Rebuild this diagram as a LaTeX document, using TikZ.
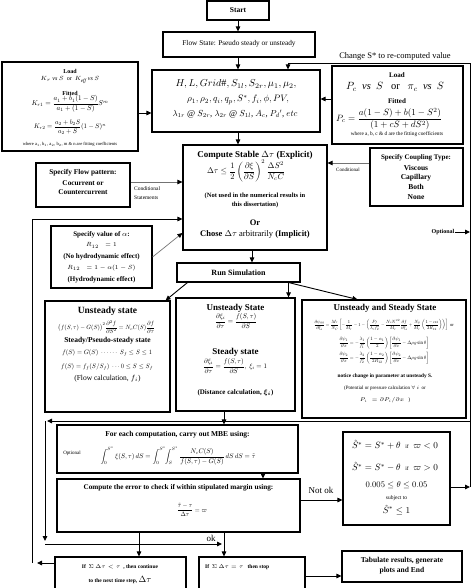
\RequirePackage{fix-cm}
\documentclass[tikz,border=0pt]{standalone}
\usepackage{amsmath}
\usepackage{graphicx}
\usepackage{fontspec}
\setmainfont{Liberation Serif}
\usetikzlibrary{arrows.meta,calc}
\newcommand\fz[1]{\fontsize{#1}{#1}\selectfont}
\newcommand\rw[2]{\resizebox{#1pt}{!}{#2}}
\newcounter{tn}
\newcommand\tx[4][]{\stepcounter{tn}\node[txt,#1] (t\number\value{tn}) at (#2,#3) {#4};}
\newcommand\bx[5]{\node[box,minimum width={(#4-#2)*1pt},minimum height={(#5-#3)*1pt}] (#1) at ({(#2+#4)/2},{(#3+#5)/2}) {};}
\tikzset{
  box/.style={draw,line width=1.1pt,inner sep=0pt,fill=white},
  txt/.style={inner sep=0pt,align=center},
  line/.style={line width=0.9pt},
  arr/.style={line width=0.9pt,-{Triangle[length=5pt,width=4.5pt]}},
  garr/.style={line width=0.7pt,draw=black!55,-{Triangle[length=5pt,width=4.5pt,color=black]}}
}
\begin{document}
\begin{tikzpicture}[x=1pt,y=-1pt]
\useasboundingbox (0,0) rectangle (474,588);
% boxes
\bx{start}{207}{1}{269}{20}
\bx{flow}{163}{32}{315}{57}
\bx{params}{152}{70}{320}{132}
\bx{lload}{2}{62}{138}{151}
\bx{rload}{332}{66}{463}{144}
\bx{comp}{183}{145}{327}{250}
\bx{coup}{370}{148}{463}{206}
\bx{fp}{36}{163}{130}{207}
\bx{alpha}{51}{226}{152}{288}
\bx{run}{177}{263}{300}{282}
\bx{lus}{45}{301}{170}{412}
\bx{mid}{176}{298}{295}{411}
\bx{rbox}{302}{300}{466}{418}
\bx{mbe}{57}{425}{298}{473}
\bx{err}{57}{479}{300}{532}
\bx{shat}{343}{432}{450}{525}
\bx{ifl}{55}{557}{186}{595}
\bx{ifeq}{199}{557}{305}{595}
\bx{tab}{342}{551}{462}{582}
% texts
\tx{238}{10.5}{\fz{7.5}\bfseries Start}
\tx{239}{44}{\fz{7.3}Flow State: Pseudo steady or unsteady}
\tx{395}{56}{\fz{8.5}Change S* to re-computed value}
\tx{70}{71}{\fz{6}\bfseries Load}
\tx{70}{80}{\fz{6}$K_r$ \textit{vs} $S$ \ or \ $K_{\mathit{eff}}$ \textit{vs} $S$}
\tx{70}{93}{\fz{6}\bfseries Fitted}
\tx{70}{104}{\rw{77}{$K_{r1}=\dfrac{a_1+b_1(1-S)}{a_1+(1-S)}S^m$}}
\tx{70}{127}{\rw{72}{$K_{r2}=\dfrac{a_2+b_2S}{a_2+S}(1-S)^n$}}
\tx{70}{144}{\fz{4.6}where a$_1$, b$_1$, a$_2$, b$_2$, m \& n are fitting coefficients}
\tx{236}{84}{\rw{121}{$H, L, Grid\#, S_{1l}, S_{2r}, \mu_1, \mu_2,$}}
\tx{238}{100}{\rw{102}{$\rho_1, \rho_2, q_i, q_p, S^*, f_i, \phi, PV,$}}
\tx{235}{114}{\rw{125}{$\lambda_{1r}$ @ $S_{2r}$, $\lambda_{2r}$ @ $S_{1l}$, $A_c$, $P_d{}'$, $etc$}}
\tx{397}{75}{\fz{7}\bfseries Load}
\tx{395}{87}{\rw{98}{$P_c$ \ \textit{vs} \ $S$ \ \ or \ \ $\pi_c$ \ \textit{vs} \ $S$}}
\tx{397}{101}{\fz{7}\bfseries Fitted}
\tx{389}{119}{\rw{106}{$P_c=\dfrac{a(1-S)+b(1-S^2)}{(1+cS+dS^2)}$}}
\tx{397}{134}{\fz{5.3}where a, b, c \& d are the fitting coefficients}
\tx{255}{155}{\fz{9}\bfseries Compute Stable $\Delta\tau$ (Explicit)}
\tx{246}{171}{\rw{78}{$\Delta\tau\le\dfrac12\left(\dfrac{\partial\xi}{\partial S}\right)^2\dfrac{\Delta S^2}{N_cC}$}}
\tx{255}{196}{\fz{6.5}\bfseries (Not used in the numerical results in}
\tx{255}{205}{\fz{6.5}\bfseries this dissertation)}
\tx{255}{223}{\fz{8.5}\bfseries Or}
\tx{255}{234}{\fz{8.5}\textbf{Chose} $\Delta\tau$ arbitrarily \textbf{(Implicit)}}
\tx{416}{158}{\fz{7}\bfseries Specify Coupling Type:}
\tx{416}{167.5}{\fz{7.5}\bfseries Viscous}
\tx{416}{177.5}{\fz{7.5}\bfseries Capillary}
\tx{416}{187}{\fz{7.5}\bfseries Both}
\tx{416}{197}{\fz{7.5}\bfseries None}
\tx{348}{170}{\fz{5}Conditional}
\tx{83}{173}{\fz{7.3}\bfseries Specify Flow pattern:}
\tx{83}{183}{\fz{7.3}\bfseries Cocurrent or}
\tx{83}{192.5}{\fz{7.3}\bfseries Countercurrent}
\tx[anchor=west]{134}{189}{\fz{5.5}Conditional}
\tx[anchor=west]{134}{198}{\fz{5.5}Statements}
\tx{101.5}{235}{\fz{7}\bfseries Specify value of $\alpha$:}
\tx{101.5}{245.5}{\fz{6}$R_{12}\;\;=1$}
\tx{101.5}{257}{\fz{7}\bfseries (No hydrodynamic effect)}
\tx{101.5}{268}{\fz{6}$R_{12}\;\;=1-\alpha(1-S)$}
\tx{101.5}{280}{\fz{7}\bfseries (Hydrodynamic effect)}
\tx{238.5}{272.5}{\fz{8}\bfseries Run Simulation}
\tx{107.5}{311}{\fz{9.5}\bfseries Unsteady state}
\tx{106.5}{327}{\rw{97}{$\bigl(f(S,\tau)-G(S)\bigr)^2\dfrac{\partial^2 f}{\partial S^2}=N_cC(S)\dfrac{\partial f}{\partial\tau}$}}
\tx{107.5}{341}{\fz{7.5}\bfseries Steady/Pseudo-steady state}
\tx{107}{353}{\rw{90}{$f(S)=G(S)\ \cdots\cdots\ S_f\le S\le 1$}}
\tx{107}{367}{\rw{92}{$f(S)=f_f(S/S_f)\ \cdots 0\le S\le S_f$}}
\tx{107.5}{379}{\fz{7.5}(Flow calculation, $f_i$)}
\tx{235.5}{308}{\fz{9}\bfseries Unsteady State}
\tx{236}{321}{\rw{42}{$\dfrac{\partial\xi_i}{\partial\tau}=\dfrac{f(S,\tau)}{\partial S}$}}
\tx{235.5}{352}{\fz{9}\bfseries Steady state}
\tx{235}{366}{\rw{64}{$\dfrac{\partial\xi_i}{\partial\tau}=\dfrac{f(S,\tau)}{\partial S},\ \xi_i=1$}}
\tx{235.5}{393}{\fz{7}\bfseries (Distance calculation, $\boldsymbol{\xi_i}$)}
\tx{385}{308}{\fz{9}\bfseries Unsteady and Steady State}
\tx{384}{325}{\rw{140}{$\dfrac{\partial\psi_{gg}}{\partial\xi_i}=\dfrac{M_r}{N_C}\left[-\dfrac{1}{M_r}-1-\left(\dfrac{P_f}{\lambda_rf_2^0}-\dfrac{N_cN^{\sigma2}}{M_r}\dfrac{\partial f}{\partial\xi_i}+\dfrac{N_g}{M_r}\left(\dfrac{1-\alpha_2}{2R_{12}}\right)\right)\right]$ \ or}}
\tx{384}{343}{\rw{90}{$\dfrac{\partial\psi_1}{\partial x}=-\dfrac{\lambda_1}{f_1^0}\left(\dfrac{1-\alpha_1}{2}\right)\left[\dfrac{\partial\psi_1}{\partial x}-\Delta\rho g\sin\theta\right]$}}
\tx{384}{358}{\rw{90}{$\dfrac{\partial\psi_2}{\partial x}=-\dfrac{\lambda_2}{f_2^0}\left(\dfrac{1-\alpha_2}{2R_{12}}\right)\left[\dfrac{\partial\psi_2}{\partial x}-\Delta\rho g\sin\theta\right]$}}
\tx{385}{376}{\fz{5.3}\bfseries notice change in parameter at unsteady S.}
\tx{385}{388}{\fz{5}(Potential or pressure calculation $\forall\, i$ \ or}
\tx{385}{400}{\fz{5.5}$P_i\;=\partial P_i/\partial x$ \ \ )}
\tx{177.5}{435}{\fz{7.5}\bfseries For each computation, carry out MBE using:}
\tx{72}{453}{\fz{5}Optional}
\tx{178}{456}{\rw{155}{$\displaystyle\int_0^{S^*}\xi(S,\tau)\,dS=\int_0^{S^*}\!\!\int_S^{S^*}\frac{N_cC(S)}{f(S,\tau)-G(S)}\,dS\,dS=\tilde\tau$}}
\tx{178.5}{488}{\fz{7.2}\bfseries Compute the error to check if within stipulated margin using:}
\tx{192}{510}{\rw{30}{$\dfrac{\tilde\tau-\tau}{\Delta\tau}=\varpi$}}
\tx{321}{490}{\fz{9}Not ok}
\tx{395}{445}{\rw{86}{$\hat S^*=S^*+\theta$ \ {\fz{6}if} \ $\varpi<0$}}
\tx{395}{467}{\rw{86}{$\hat S^*=S^*-\theta$ \ {\fz{6}if} \ $\varpi>0$}}
\tx{396.5}{485}{\rw{62}{$0.005\le\theta\le0.05$}}
\tx{396.5}{498}{\fz{5.5}subject to}
\tx{396.5}{510}{\fz{9}$\hat S^*\le 1$}
\tx{211}{538}{\fz{9}ok}
\tx{120}{567}{\fz{5.5}\bfseries If \ $\Sigma\,\Delta\tau<\tau$ \ , then continue}
\tx{120}{580}{\fz{5.5}\bfseries to the next time step, {\fz{9}$\Delta\tau$}}
\tx[anchor=west]{205}{567}{\fz{5.5}\bfseries If \ $\Sigma\,\Delta\tau=\tau$ \ \ then stop}
\tx{402}{561}{\fz{7.5}\bfseries Tabulate results, generate}
\tx{402}{571}{\fz{7.5}\bfseries plots and End}
\node[txt] (opt) at (443,232) {\fz{6}\bfseries Optional};
% connectors
\coordinate (rtop) at (470,63);
\coordinate (rbot) at (470,487);
\coordinate (chg) at (288,63);
\draw[line] (rbot) -- (rtop) -- (chg);
\draw[arr] (chg) -- (chg |- params.north);
\draw[arr] (shat.east |- rbot) -- (rbot);
\draw[arr] (opt.east) -- (opt.east -| rtop);
\draw[arr] (start.south) -- (start.south |- flow.north);
\draw[arr] (start.south |- flow.south) -- (start.south |- params.north);
\coordinate (la) at (0,113);
\draw[arr] (lload.east |- la) -- (params.west |- la);
\coordinate (ra) at (0,99);
\draw[arr] (rload.west |- ra) -- (params.east |- ra);
\draw[arr] (start.south |- params.south) -- (start.south |- comp.north);
\coordinate (ca) at (0,163);
\draw[garr] (coup.west |- ca) -- (comp.east |- ca);
\coordinate (fa) at (0,182);
\draw[garr] (fp.east |- fa) -- (comp.west |- fa);
\coordinate (lt) at (32,219);
\coordinate (lb) at (32,563);
\draw[line] (lb) -- (lt);
\draw[arr] (lt) -- (comp.west |- lt);
\draw[arr] (ifl.west |- lb) -- ($(lb)+(5,0)$);
\coordinate (aa) at (0,233);
\draw[garr] (alpha.east) -- (comp.west |- aa);
\coordinate (cb) at (252,0);
\draw[arr] (comp.south -| cb) -- (run.north -| cb);
\draw[arr] ($(run.south west)+(11,0)$) -- ($(lus.north east)+(-5,0)$);
\coordinate (rs) at ($(run.south east)+(-12,0)$);
\draw[arr] (rs) -- (rs |- mid.north);
\draw[arr] (rs) -- ($(rbox.north west)+(56,0)$);
\coordinate (mx) at (224,0);
\draw[arr] (mid.south -| mx) -- (mbe.north -| mx);
\coordinate (ex) at (263,0);
\draw[arr] (mbe.south -| ex) -- (err.north -| ex);
\coordinate (na) at (0,500);
\draw[arr] (err.east |- na) -- (shat.west |- na);
\coordinate (b1) at (139,0);
\coordinate (b2) at (224,0);
\draw[arr] (err.south -| b1) -- (ifl.north -| b1);
\draw[arr] (err.south -| b2) -- (ifeq.north -| b2);
\coordinate (j1) at (470,421);
\coordinate (j2) at (45,421);
\coordinate (j3) at (45,544);
\coordinate (okend) at (222,544);
\draw[arr] (j1) -- ($(j2)+(2,0)$);
\draw[arr] (j2) -- ($(j3)+(0,-3)$);
\draw[arr] (j3) -- (okend);
\coordinate (ta) at (0,576);
\draw[arr] (ifeq.east |- ta) -- (tab.west |- ta);
\end{tikzpicture}
\end{document}
